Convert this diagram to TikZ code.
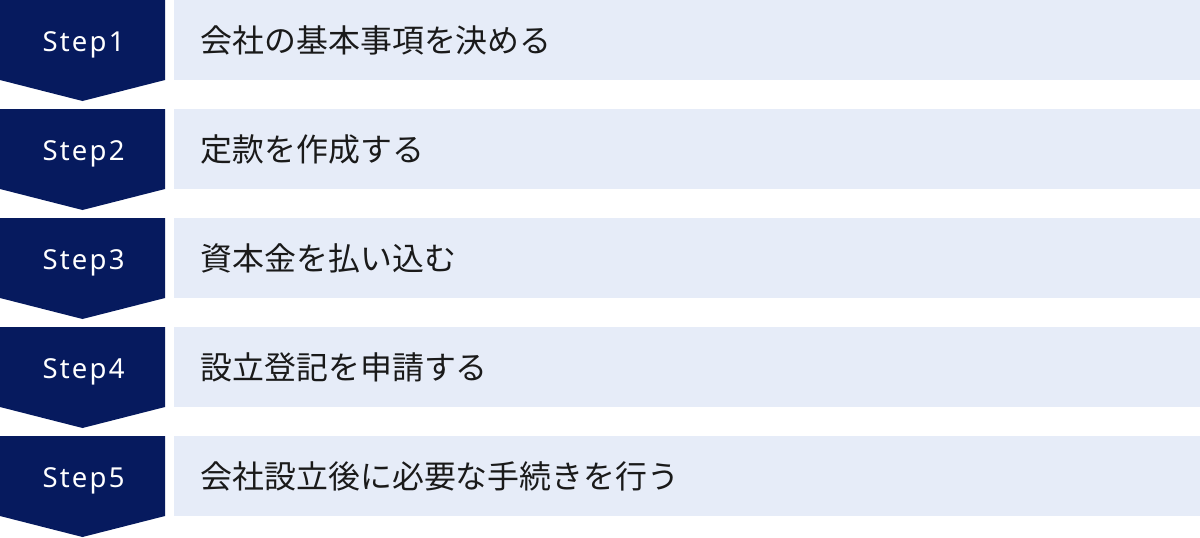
\documentclass[tikz,border=0pt]{standalone}
\usepackage{fontspec}
\setmainfont{Noto Sans}
\newfontfamily\jpfont{Noto Sans CJK JP}
\definecolor{navy}{HTML}{061A5E}
\definecolor{paleblue}{HTML}{E6ECF8}
\definecolor{inkc}{HTML}{1A1A1A}
\tikzset{
  steplabel/.style={text=white, inner sep=0pt, anchor=base, font=\fontsize{27.5}{32}\selectfont\addfontfeature{LetterSpace=8}},
  steptext/.style={text=inkc, inner sep=0pt, anchor=west, font=\jpfont\fontsize{31.9}{38}\selectfont},
}
\begin{document}
\begin{tikzpicture}[x=1pt,y=-1pt]
\useasboundingbox (0,0) rectangle (1200,538);
\fill[white] (0,0) rectangle (1200,538);
\foreach \i/\t in {1/会社の基本事項を決める,2/定款を作成する,3/資本金を払い込む,4/設立登記を申請する,5/会社設立後に必要な手続きを行う}{
  \pgfmathsetmacro{\yy}{(\i-1)*109}
  \fill[paleblue] (174,\yy) rectangle (1200,\yy+80);
  \fill[navy] (0,\yy) -- (165,\yy) -- (165,\yy+80) -- (82.5,\yy+101) -- (0,\yy+80) -- cycle;
  \node[steplabel] (s\i) at (83.5,\yy+51.5) {Step\i};
  \node[steptext] (t\i) at (200.5,\yy+40) {\t};
}
\end{tikzpicture}
\end{document}
